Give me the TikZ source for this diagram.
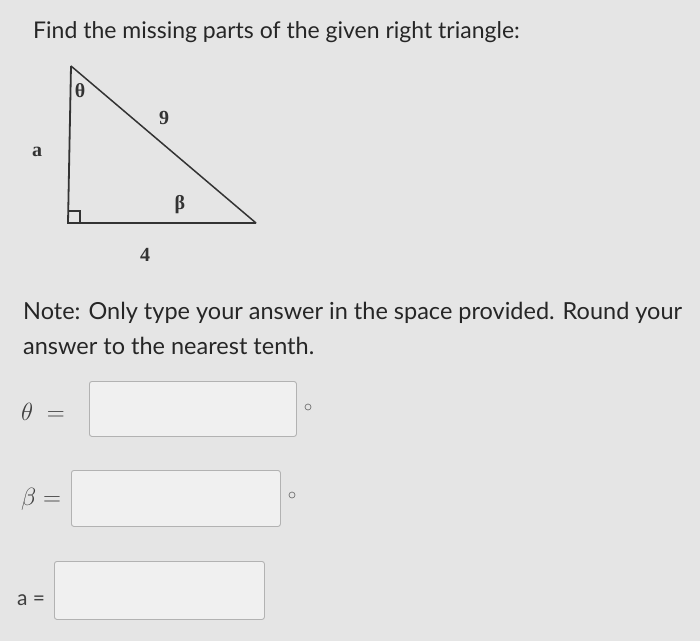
\documentclass[tikz,border=0pt]{standalone}
\usepackage{fontspec}
\setmainfont{Lato}
\newfontfamily\serifB{Liberation Serif}
\begin{document}
\begin{tikzpicture}[x=1pt,y=-1pt,
  ttl/.style={anchor=base west,inner sep=0pt,font=\fontsize{23}{28}\selectfont,text=black!85},
  tlab/.style={inner sep=0pt,font=\serifB\bfseries\fontsize{20}{24}\selectfont,text=black!80},
  ansbox/.style={draw=black!30,fill=black!6,rounded corners=2.5pt,line width=0.9pt,minimum width=#1,minimum height=55pt,inner sep=0pt,anchor=north west},
  deg/.style={circle,draw=black!55,line width=0.7pt,minimum size=6pt,inner sep=0pt},
  side/.style={draw=black!80,line width=1.8pt},
  mlab/.style={inner sep=0pt,font=\fontsize{28}{32}\selectfont,text=black!75}]
\fill[black!10] (0,0) rectangle (700,641);
\useasboundingbox (0,0) rectangle (700,641);
% title
\node[ttl] (title) at (33,38) {Find the missing parts of the given right triangle:};
% triangle
\coordinate (T) at (71,66);
\coordinate (C) at (68,223);
\coordinate (R) at (256,223);
\draw[side] (T) -- (C) -- (R);
\draw[draw=black!80,line width=1.5pt] (R) -- (T);
\draw[draw=black!80,line width=1.1pt] (68,211) -- (80,211) -- (80,223);
\node[tlab] (th) at (80,91) {θ};
\node[tlab] (nine) at (164,118) {9};
\node[tlab] (a) at (37,152) {a};
\node[tlab] (be) at (180,205) {β};
\node[tlab] (four) at (145,255) {4};
% note
\node[ttl,font=\fontsize{23.5}{28}\selectfont] (note1) at (23,319) {Note: Only type your answer in the space provided. Round your};
\node[ttl,font=\fontsize{23.5}{28}\selectfont] (note2) at (23,354) {answer to the nearest tenth.};
% answers
\node[mlab] (thl) at (43,412) {$\theta\;=$};
\node[ansbox=207pt] (b1) at (89,381) {};
\node[deg] (d1) at (308,407) {};
\node[mlab] (bel) at (41,499) {$\beta=$};
\node[ansbox=209pt,minimum height=56pt] (b2) at (71,470) {};
\node[deg] (d2) at (292,495) {};
\node[mlab,font=\fontsize{21}{24}\selectfont] (al) at (31,600) {a =};
\node[ansbox=210pt,minimum height=58pt] (b3) at (54,561) {};
\end{tikzpicture}
\end{document}
